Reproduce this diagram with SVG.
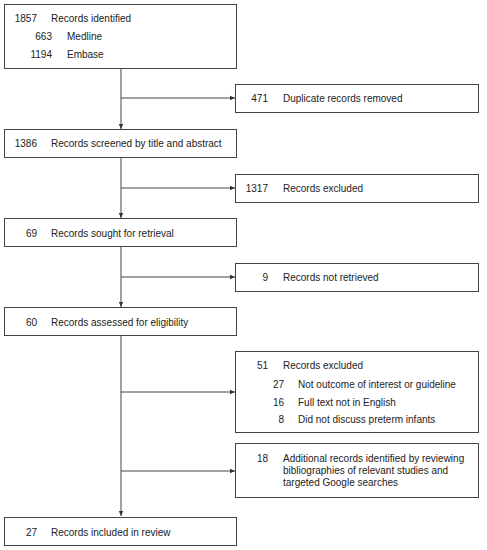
<svg xmlns="http://www.w3.org/2000/svg" width="487" height="550" viewBox="0 0 487 550">
<style>
.box{fill:#fff;stroke:#444;stroke-width:1}
text{font-family:"Liberation Sans",Arial,sans-serif;font-size:10px;fill:#222}
.n{text-anchor:end}
.ln{stroke:#444;stroke-width:1;fill:none}
</style>
<defs>
<marker id="ah" markerWidth="6" markerHeight="6" refX="5" refY="3" orient="auto" markerUnits="userSpaceOnUse">
<path d="M0,0.8 L5,3 L0,5.2 Z" fill="#333"/>
</marker>
</defs>
<rect width="487" height="550" fill="#fff"/>
<g id="connectors">
<line class="ln" x1="121" y1="68" x2="121" y2="129" marker-end="url(#ah)"/>
<line class="ln" x1="121" y1="98" x2="235" y2="98" marker-end="url(#ah)"/>
<line class="ln" x1="121" y1="158" x2="121" y2="218" marker-end="url(#ah)"/>
<line class="ln" x1="121" y1="188" x2="235" y2="188" marker-end="url(#ah)"/>
<line class="ln" x1="121" y1="247" x2="121" y2="307" marker-end="url(#ah)"/>
<line class="ln" x1="121" y1="277" x2="235" y2="277" marker-end="url(#ah)"/>
<line class="ln" x1="121" y1="336" x2="121" y2="516" marker-end="url(#ah)"/>
<line class="ln" x1="121" y1="392" x2="235" y2="392" marker-end="url(#ah)"/>
<line class="ln" x1="121" y1="471" x2="235" y2="471" marker-end="url(#ah)"/>
</g>
<g id="identified">
<rect class="box" x="4.5" y="4.5" width="232" height="64"/>
<text class="n" x="37" y="22">1857</text><text x="51" y="22">Records identified</text>
<text class="n" x="52" y="40">663</text><text x="67" y="40">Medline</text>
<text class="n" x="52" y="58">1194</text><text x="67" y="58">Embase</text>
</g>
<g id="duplicates">
<rect class="box" x="235.5" y="84.5" width="243" height="28"/>
<text class="n" x="268" y="102">471</text><text x="283" y="102">Duplicate records removed</text>
</g>
<g id="screened">
<rect class="box" x="4.5" y="129.5" width="232" height="28"/>
<text class="n" x="37" y="147">1386</text><text x="51" y="147">Records screened by title and abstract</text>
</g>
<g id="excluded1">
<rect class="box" x="235.5" y="174.5" width="243" height="28"/>
<text class="n" x="268" y="192">1317</text><text x="283" y="192">Records excluded</text>
</g>
<g id="sought">
<rect class="box" x="4.5" y="218.5" width="232" height="28"/>
<text class="n" x="37" y="237">69</text><text x="51" y="237">Records sought for retrieval</text>
</g>
<g id="notretrieved">
<rect class="box" x="235.5" y="263.5" width="243" height="28"/>
<text class="n" x="268" y="281">9</text><text x="283" y="281">Records not retrieved</text>
</g>
<g id="assessed">
<rect class="box" x="4.5" y="307.5" width="232" height="28"/>
<text class="n" x="37" y="326">60</text><text x="51" y="326">Records assessed for eligibility</text>
</g>
<g id="excluded2">
<rect class="box" x="235.5" y="351.5" width="243" height="81"/>
<text class="n" x="268" y="369">51</text><text x="283" y="369">Records excluded</text>
<text class="n" x="284" y="388">27</text><text x="298" y="388">Not outcome of interest or guideline</text>
<text class="n" x="284" y="406">16</text><text x="298" y="406">Full text not in English</text>
<text class="n" x="284" y="423">8</text><text x="298" y="423">Did not discuss preterm infants</text>
</g>
<g id="additional">
<rect class="box" x="235.5" y="443.5" width="243" height="54"/>
<text class="n" x="268" y="462">18</text>
<text x="283" y="462">Additional records identified by reviewing</text>
<text x="283" y="474">bibliographies of relevant studies and</text>
<text x="283" y="486">targeted Google searches</text>
</g>
<g id="included">
<rect class="box" x="4.5" y="517.5" width="232" height="28"/>
<text class="n" x="37" y="536">27</text><text x="51" y="536">Records included in review</text>
</g>
</svg>
